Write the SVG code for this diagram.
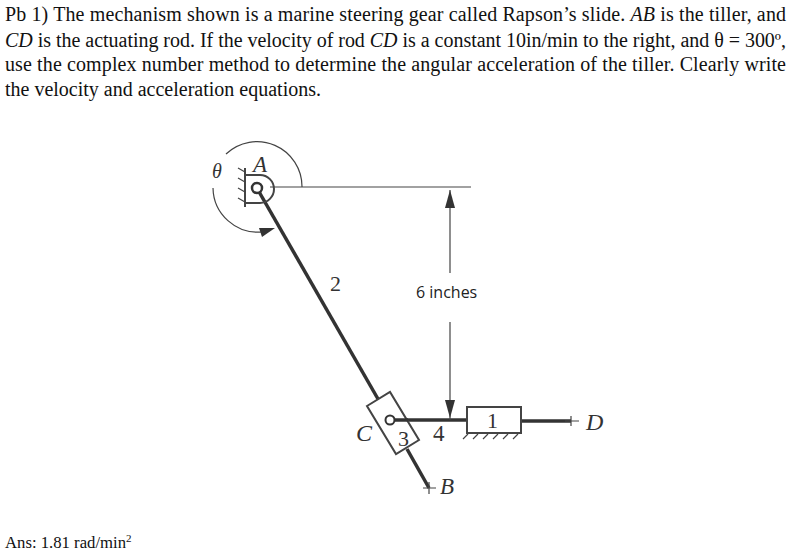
<svg xmlns="http://www.w3.org/2000/svg" width="801" height="558" viewBox="0 0 801 558">
<style>
.t{font-family:"Liberation Serif",serif;font-size:20px;fill:#111}
.i{font-family:"Liberation Serif",serif;font-style:italic;font-size:23px;fill:#333}
.n{font-family:"Liberation Serif",serif;font-size:22px;fill:#333}
.l{fill:none;stroke:#444;stroke-width:1.2}
.h{fill:none;stroke:#333;stroke-width:3.5}
.m{fill:none;stroke:#444;stroke-width:2}
.a{fill:#333}
</style>
<rect width="801" height="558" fill="#fff"/>
<g id="problem-text">
<text class="t" x="5" y="21" xml:space="preserve" textLength="781">Pb 1) The mechanism shown is a marine steering gear called Rapson’s slide. <tspan font-style="italic">AB</tspan> is the tiller, and</text>
<text class="t" x="5" y="47" textLength="781"><tspan font-style="italic">CD</tspan> is the actuating rod. If the velocity of rod <tspan font-style="italic">CD</tspan> is a constant 10in/min to the right, and θ = 300º,</text>
<text class="t" x="5" y="71" textLength="781">use the complex number method to determine the angular acceleration of the tiller. Clearly write</text>
<text class="t" x="5" y="96">the velocity and acceleration equations.</text>
<text class="t" x="5" y="548" style="font-size:16.7px">Ans: 1.81 rad/min<tspan font-size="11" dy="-6">2</tspan></text>
</g>
<g id="connectors">
<line class="h" x1="258" y1="190" x2="378" y2="399"/>
<line class="h" x1="407" y1="449" x2="429" y2="488"/>
<line class="h" x1="394" y1="420" x2="467" y2="420"/>
<line class="h" x1="521" y1="421" x2="571" y2="421"/>
<line class="l" x1="270" y1="187" x2="471" y2="187"/>
<path class="l" d="M302 187A45 45 0 0 0 226 154"/>
<path class="l" d="M213 188A45 45 0 0 0 262 232"/>
<polygon class="a" points="259,228 275,228 262,237"/>
<line class="l" x1="450" y1="190" x2="450" y2="273"/>
<polygon class="a" points="450,190 445,208 455,208"/>
<line class="l" x1="450" y1="322" x2="450" y2="420"/>
<polygon class="a" points="450,418 445,400 455,400"/>
</g>
<g id="node-A">
<path class="m" d="M245 168V207M245 175H260A14 14 0 0 1 260 203H245"/>
<path class="l" d="M245 172L238 168M245 182L238 178M245 192L238 188M245 202L238 198"/>
<circle cx="257" cy="188" r="5" fill="#fff" stroke="#333" stroke-width="2.5"/>
<text class="i" x="253" y="172">A</text>
<text class="i" x="212" y="178" style="font-size:20px">θ</text>
</g>
<g id="link-2"><text class="n" x="330" y="291">2</text></g>
<g id="dimension"><text x="416" y="298" style="font-family:'Open Sans',sans-serif;font-size:16px;fill:#222">6 inches</text></g>
<g id="slider-3">
<polygon points="367,406 390,392 419,440 396,454" fill="#fff" stroke="#444" stroke-width="2"/>
<text class="n" x="398" y="446">3</text>
<line class="h" x1="394" y1="420" x2="408" y2="420"/>
<circle cx="390" cy="420" r="4.5" fill="#fff" stroke="#333" stroke-width="2"/>
<text class="i" x="356" y="441" style="font-size:24px">C</text>
</g>
<g id="link-4"><text class="n" x="433" y="441" style="font-size:23px">4</text></g>
<g id="block-1">
<rect x="467" y="407" width="54" height="26" fill="#fff" stroke="#444" stroke-width="2"/>
<text class="n" x="487" y="428">1</text>
<path class="l" d="M463 439L468 434M473 439L478 434M483 439L488 434M493 439L498 434M503 439L508 434M513 439L518 434"/>
</g>
<g id="point-D">
<path class="l" d="M565 421H579M571 416V426"/>
<text class="i" x="586" y="430" style="font-size:24px">D</text>
</g>
<g id="point-B">
<path class="l" d="M423 488H436M429 482V494"/>
<text class="i" x="440" y="494">B</text>
</g>
</svg>
